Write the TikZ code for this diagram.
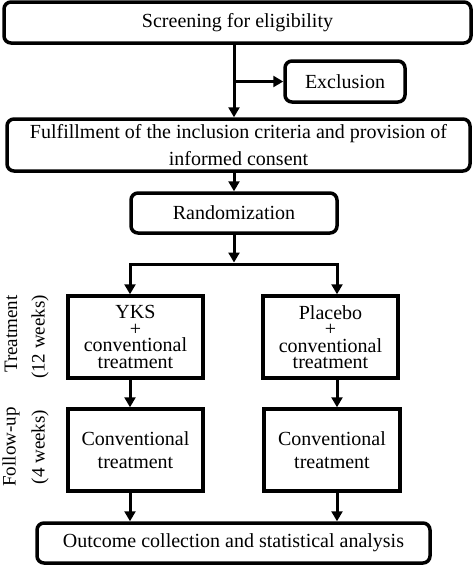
\documentclass[tikz,border=0pt]{standalone}
\usepackage{fontspec}
\setmainfont{Liberation Serif}
\usetikzlibrary{arrows.meta}
\begin{document}
\lineskiplimit=-100pt\relax
\begin{tikzpicture}[x=1pt,y=-1pt,
  rbox/.style={draw, line width=3.5pt, rounded corners=7pt, inner sep=0pt, align=center,
    font=\fontsize{20}{24}\selectfont},
  sbox/.style={draw, line width=3.5pt, inner sep=0pt, align=center,
    minimum width=135pt, minimum height=82pt},
  arr/.style={line width=3pt, -{Triangle[width=11pt,length=10pt]}},
  ln/.style={line width=3pt},
  side/.style={rotate=90, inner sep=0pt, font=\fontsize{19}{22}\selectfont}]
\useasboundingbox (0,0) rectangle (474,566);

\node[rbox, minimum width=467pt, minimum height=41pt] (screen) at (237.5,22.5) {Screening for eligibility};
\node[rbox, minimum width=120pt, minimum height=41pt] (excl) at (345,81.5) {Exclusion};
\node[rbox, minimum width=463pt, minimum height=52pt,
  font=\fontsize{20}{27}\selectfont] (fulfil) at (238.5,145)
  {Fulfillment of the inclusion criteria and provision of\\informed consent};
\node[rbox, minimum width=206pt, minimum height=40pt] (rand) at (234,213) {Randomization};

\node[sbox, font=\fontsize{20}{16.5}\selectfont] (yks) at (135.5,337)
  {YKS\\+\\conventional\\treatment};
\node[sbox, font=\fontsize{20}{16.5}\selectfont] (plac) at (330.5,337)
  {Placebo\\+\\conventional\\treatment};
\node[sbox, font=\fontsize{20}{23}\selectfont] (conv1) at (135.5,450)
  {Conventional\\treatment};
\node[sbox, minimum width=136pt, font=\fontsize{20}{23}\selectfont] (conv2) at (332,450)
  {Conventional\\treatment};
\node[rbox, minimum width=393pt, minimum height=40pt] (outc) at (233.5,543)
  {Outcome collection and statistical analysis};

\node[side] (t1) at (11,334) {Treatment};
\node[side] (t2) at (40,337) {(12 weeks)};
\node[side] (f1) at (11,447) {Follow-up};
\node[side] (f2) at (40,447) {(4 weeks)};

\coordinate (branch) at (234,81.5);
\coordinate (split) at (234,264);
\coordinate (splittip) at (234,262.5);
\coordinate (cl) at (130,264);
\coordinate (cr) at (337,264);

\draw[ln] (branch |- screen.south) -- (branch);
\draw[arr] (branch) -- (branch |- fulfil.north);
\draw[arr] (branch) -- (excl.west);
\draw[arr] (branch |- fulfil.south) -- (branch |- rand.north);
\draw[arr] (branch |- rand.south) -- (splittip);
\draw[arr] (split) -| (cl |- yks.north);
\draw[arr] (split) -| (cr |- plac.north);
\draw[arr] (cl |- yks.south) -- (cl |- conv1.north);
\draw[arr] (cr |- plac.south) -- (cr |- conv2.north);
\draw[arr] (cl |- conv1.south) -- (cl |- outc.north);
\draw[arr] (cr |- conv2.south) -- (cr |- outc.north);
\end{tikzpicture}
\end{document}
